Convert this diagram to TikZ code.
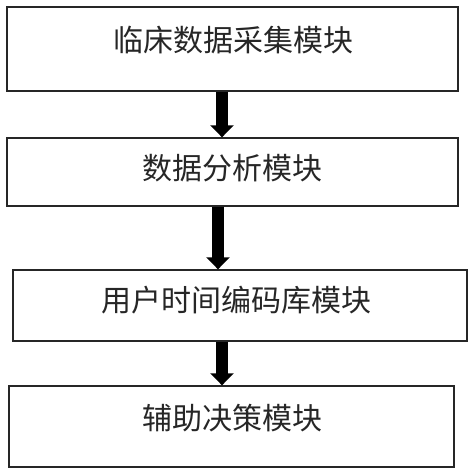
\documentclass[tikz,border=0pt]{standalone}
\usepackage{fontspec}
\newfontfamily\cjk{Noto Sans CJK SC}
\usetikzlibrary{arrows.meta}
\tikzset{
  box/.style={draw=black!85, line width=1.4pt, inner sep=0pt},
  lbl/.style={font=\cjk\fontsize{30}{32}\selectfont, inner sep=0pt, text=black!85},
  bigarrow/.style={line width=12pt, -{Triangle[width=23pt,length=12pt]}}
}
\begin{document}
\begin{tikzpicture}[x=1pt,y=-1pt]
\useasboundingbox (0,0) rectangle (474,475);
% boxes
\node[box, minimum width=451pt, minimum height=84pt] (b1) at (232.5,49) {};
\node[box, minimum width=451pt, minimum height=68pt] (b2) at (232.5,172) {};
\node[box, minimum width=454pt, minimum height=71pt] (b3) at (240,305.5) {};
\node[box, minimum width=445pt, minimum height=81pt] (b4) at (231.5,426.5) {};
% labels
\node[lbl] (t1) at (233.5,40) {临床数据采集模块};
\node[lbl] (t2) at (232.5,168) {数据分析模块};
\node[lbl] (t3) at (236.5,300) {用户时间编码库模块};
\node[lbl] (t4) at (232.5,418) {辅助决策模块};
% arrows
\coordinate (a1) at (222,0);
\coordinate (a2) at (218,0);
\coordinate (a3) at (222,0);
\draw[bigarrow] (b1.south -| a1) -- (b2.north -| a1);
\draw[bigarrow] (b2.south -| a2) -- (b3.north -| a2);
\draw[bigarrow] (b3.south -| a3) -- (b4.north -| a3);
\end{tikzpicture}
\end{document}
